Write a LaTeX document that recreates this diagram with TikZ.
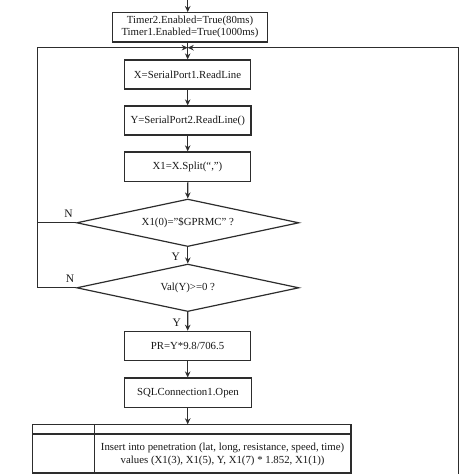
\documentclass[tikz,border=0pt]{standalone}
\usepackage{fontspec}
\setmainfont{Liberation Serif}
\usetikzlibrary{shapes.geometric,arrows.meta}
\definecolor{ln}{RGB}{45,45,45}
\definecolor{tx}{RGB}{25,25,25}
\tikzset{
  box/.style={draw=ln,line width=1.2pt,rectangle,inner sep=0pt,minimum width=126.7pt,minimum height=29pt,text=tx,font=\fontsize{10.8}{12.5}\selectfont,align=center},
  dec/.style={draw=ln,line width=1.2pt,diamond,aspect=4.66,inner sep=0pt,minimum width=222.3pt,minimum height=47.5pt,text=tx,font=\fontsize{10.8}{12.5}\selectfont},
  conn/.style={draw=ln,line width=1.2pt},
  arr/.style={conn,-{Stealth[length=6pt,width=5.5pt]}},
  lbl/.style={text=tx,font=\fontsize{11.5}{13}\selectfont,inner sep=0pt},
  tbl/.style={draw=ln,line width=1.2pt}
}
\begin{document}
\begin{tikzpicture}[x=1pt,y=-1pt]
\useasboundingbox[fill=white] (0,0) rectangle (474,474);
% nodes
\node[box,minimum width=154.6pt,minimum height=29.3pt] (timer) at (190,27.3) {Timer2.Enabled=True(80ms)\\[-0.5pt]Timer1.Enabled=True(1000ms)};
\node[box] (xb) at (187.5,74.5) {X=SerialPort1.ReadLine};
\node[box] (yb) at (187.7,120.5) {Y=SerialPort2.ReadLine()};
\node[box,minimum height=29.7pt] (x1b) at (187.5,166.8) {X1=X.Split(“,”)};
\node[dec] (d1) at (187.8,222.8) {X1(0)="\$GPRMC" ?};
\node[dec] (d2) at (187.8,287.8) {Val(Y)>=0 ?};
\node[box] (pr) at (187.5,345.8) {PR=Y*9.8/706.5};
\node[box,minimum width=127.4pt,minimum height=29.3pt] (sql) at (188,392.7) {SQLConnection1.Open};
\node[text=tx,font=\fontsize{10.8}{13.5}\selectfont,align=center,inner sep=0pt] (ins) at (222.6,454.3) {Insert into penetration (lat, long, resistance, speed, time)\\values (X1(3), X1(5), Y, X1(7) * 1.852, X1(1))};
% table
\coordinate (tt) at (187.7,424.3);
\draw[tbl] (32.7,474.5) -- (32.7,424.3) -- (351,424.3) -- (351,474.5);
\draw[tbl] (32.7,434) -- (351,434);
\draw[tbl] (94.7,424.3) -- (94.7,474.5);
\draw[tbl] (32.7,473) -- (351,473);
\draw[tbl] (187.7,473) -- (187.7,474.5);
% coordinates
\coordinate (top) at (187.7,-1);
\coordinate (jn) at (187.7,47.7);
\coordinate (lb) at (37.7,287.8);
\coordinate (rb) at (458.5,475);
% connectors
\draw[arr] (top) -- (timer.north -| top);
\draw[arr] (timer.south -| top) -- (xb.north -| top);
\draw[arr] (xb.south -| top) -- (yb.north -| top);
\draw[arr] (yb.south -| top) -- (x1b.north -| top);
\draw[arr] (x1b.south -| top) -- (d1.north);
\draw[arr] (d1.south) -- (d2.north);
\draw[arr] (d2.south) -- (pr.north -| top);
\draw[arr] (pr.south -| top) -- (sql.north -| top);
\draw[arr] (sql.south -| top) -- (tt);
\draw[conn] (d1.west) -- (d1.west -| lb);
\draw[arr] (d2.west) -- (lb) |- (jn);
\draw[arr] (rb) |- (jn);
% labels
\node[lbl] (n1) at (68.5,213.3) {N};
\node[lbl] (n2) at (70,278.3) {N};
\node[lbl] (y1) at (175.7,256.7) {Y};
\node[lbl] (y2) at (176.7,322.7) {Y};
\end{tikzpicture}
\end{document}
